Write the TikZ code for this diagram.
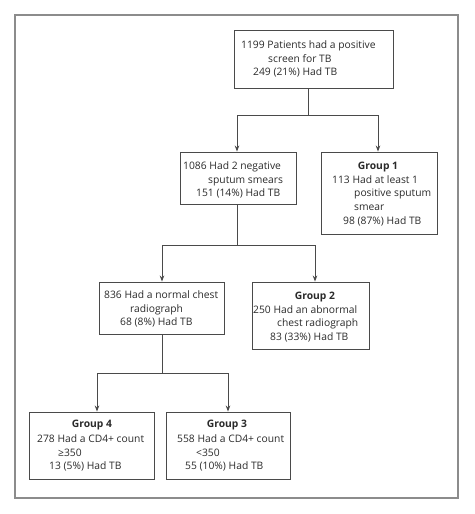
\documentclass[tikz,border=0pt]{standalone}
\usepackage{fontspec}
\setmainfont{Open Sans}
\usetikzlibrary{arrows.meta}
\definecolor{linec}{HTML}{4A4A4A}
\definecolor{framec}{HTML}{8C8C8C}
\definecolor{textc}{HTML}{2A2A2A}
\tikzset{
  box/.style={draw=linec, line width=0.9pt, rectangle, inner sep=0pt},
  txt/.style={anchor=base west, align=left, inner sep=0pt, text=textc,
    font=\fontsize{10.3}{13.7}\selectfont},
  ttl/.style={anchor=base, inner sep=0pt, text=textc,
    font=\fontsize{10.3}{13.7}\selectfont\bfseries},
  conn/.style={draw=linec, line width=0.8pt},
  arr/.style={conn, -{Stealth[length=6pt,width=4.5pt]}}
}
\begin{document}
\begin{tikzpicture}[x=1pt,y=-1pt]
\useasboundingbox (0,0) rectangle (474,514);
% outer frame
\draw[framec, line width=1.2pt] (15,15) rectangle (458,498);
% boxes
\node[box, minimum width=159pt, minimum height=58pt] (top) at (313.5,59) {};
\node[box, minimum width=116pt, minimum height=52pt] (neg) at (238,178) {};
\node[box, minimum width=116pt, minimum height=82pt] (g1) at (379,193) {};
\node[box, minimum width=125pt, minimum height=52pt] (norm) at (161.5,308) {};
\node[box, minimum width=117pt, minimum height=67pt] (g2) at (310.5,315.5) {};
\node[box, minimum width=125pt, minimum height=67pt] (g4) at (91.5,445.5) {};
\node[box, minimum width=124pt, minimum height=67pt] (g3) at (228,445.5) {};
% texts (anchored at the baseline of the last line)
\node[txt] (ttop) at (241,75.9) {1199 Patients had a positive\\\hspace*{27pt}screen for TB\\\hspace*{12pt}249 (21\%) Had TB};
\node[txt] (tneg) at (183,196.9) {1086 Had 2 negative\\\hspace*{25pt}sputum smears\\\hspace*{13pt}151 (14\%) Had TB};
\node[ttl] (hg1) at (378,169.5) {Group 1};
\node[txt] (tg1) at (332,224.1) {113 Had at least 1\\\hspace*{22pt}positive sputum\\\hspace*{22pt}smear\\\hspace*{11pt}98 (87\%) Had TB};
\node[txt] (tnorm) at (104,325.9) {836 Had a normal chest\\\hspace*{26pt}radiograph\\\hspace*{16pt}68 (8\%) Had TB};
\node[ttl] (hg2) at (315,299.5) {Group 2};
\node[txt] (tg2) at (253,340.4) {250 Had an abnormal\\\hspace*{24pt}chest radiograph\\\hspace*{17pt}83 (33\%) Had TB};
\node[ttl] (hg4) at (92,427.5) {Group 4};
\node[txt] (tg4) at (37,469.9) {278 Had a CD4+ count\\\hspace*{21pt}≥350\\\hspace*{12pt}13 (5\%) Had TB};
\node[ttl] (hg3) at (227,427.5) {Group 3};
\node[txt] (tg3) at (177,469.9) {558 Had a CD4+ count\\\hspace*{19pt}<350\\\hspace*{8pt}55 (10\%) Had TB};
% connectors
\coordinate (j1) at (308,115);
\coordinate (j1l) at (237,115);
\coordinate (j1r) at (378,115);
\draw[conn] (top.south -| j1) -- (j1);
\draw[conn] (j1l) -- (j1r);
\draw[arr] (j1l) -- (j1l |- neg.north);
\draw[arr] (j1r) -- (j1r |- g1.north);
\coordinate (j2) at (237,245);
\coordinate (j2l) at (162,245);
\coordinate (j2r) at (315,245);
\draw[conn] (neg.south -| j2) -- (j2);
\draw[conn] (j2l) -- (j2r);
\draw[arr] (j2l) -- (j2l |- norm.north);
\draw[arr] (j2r) -- (j2r |- g2.north);
\coordinate (j3) at (162,373);
\coordinate (j3l) at (97,373);
\coordinate (j3r) at (228,373);
\draw[conn] (norm.south -| j3) -- (j3);
\draw[conn] (j3l) -- (j3r);
\draw[arr] (j3l) -- (j3l |- g4.north);
\draw[arr] (j3r) -- (j3r |- g3.north);
\end{tikzpicture}
\end{document}
